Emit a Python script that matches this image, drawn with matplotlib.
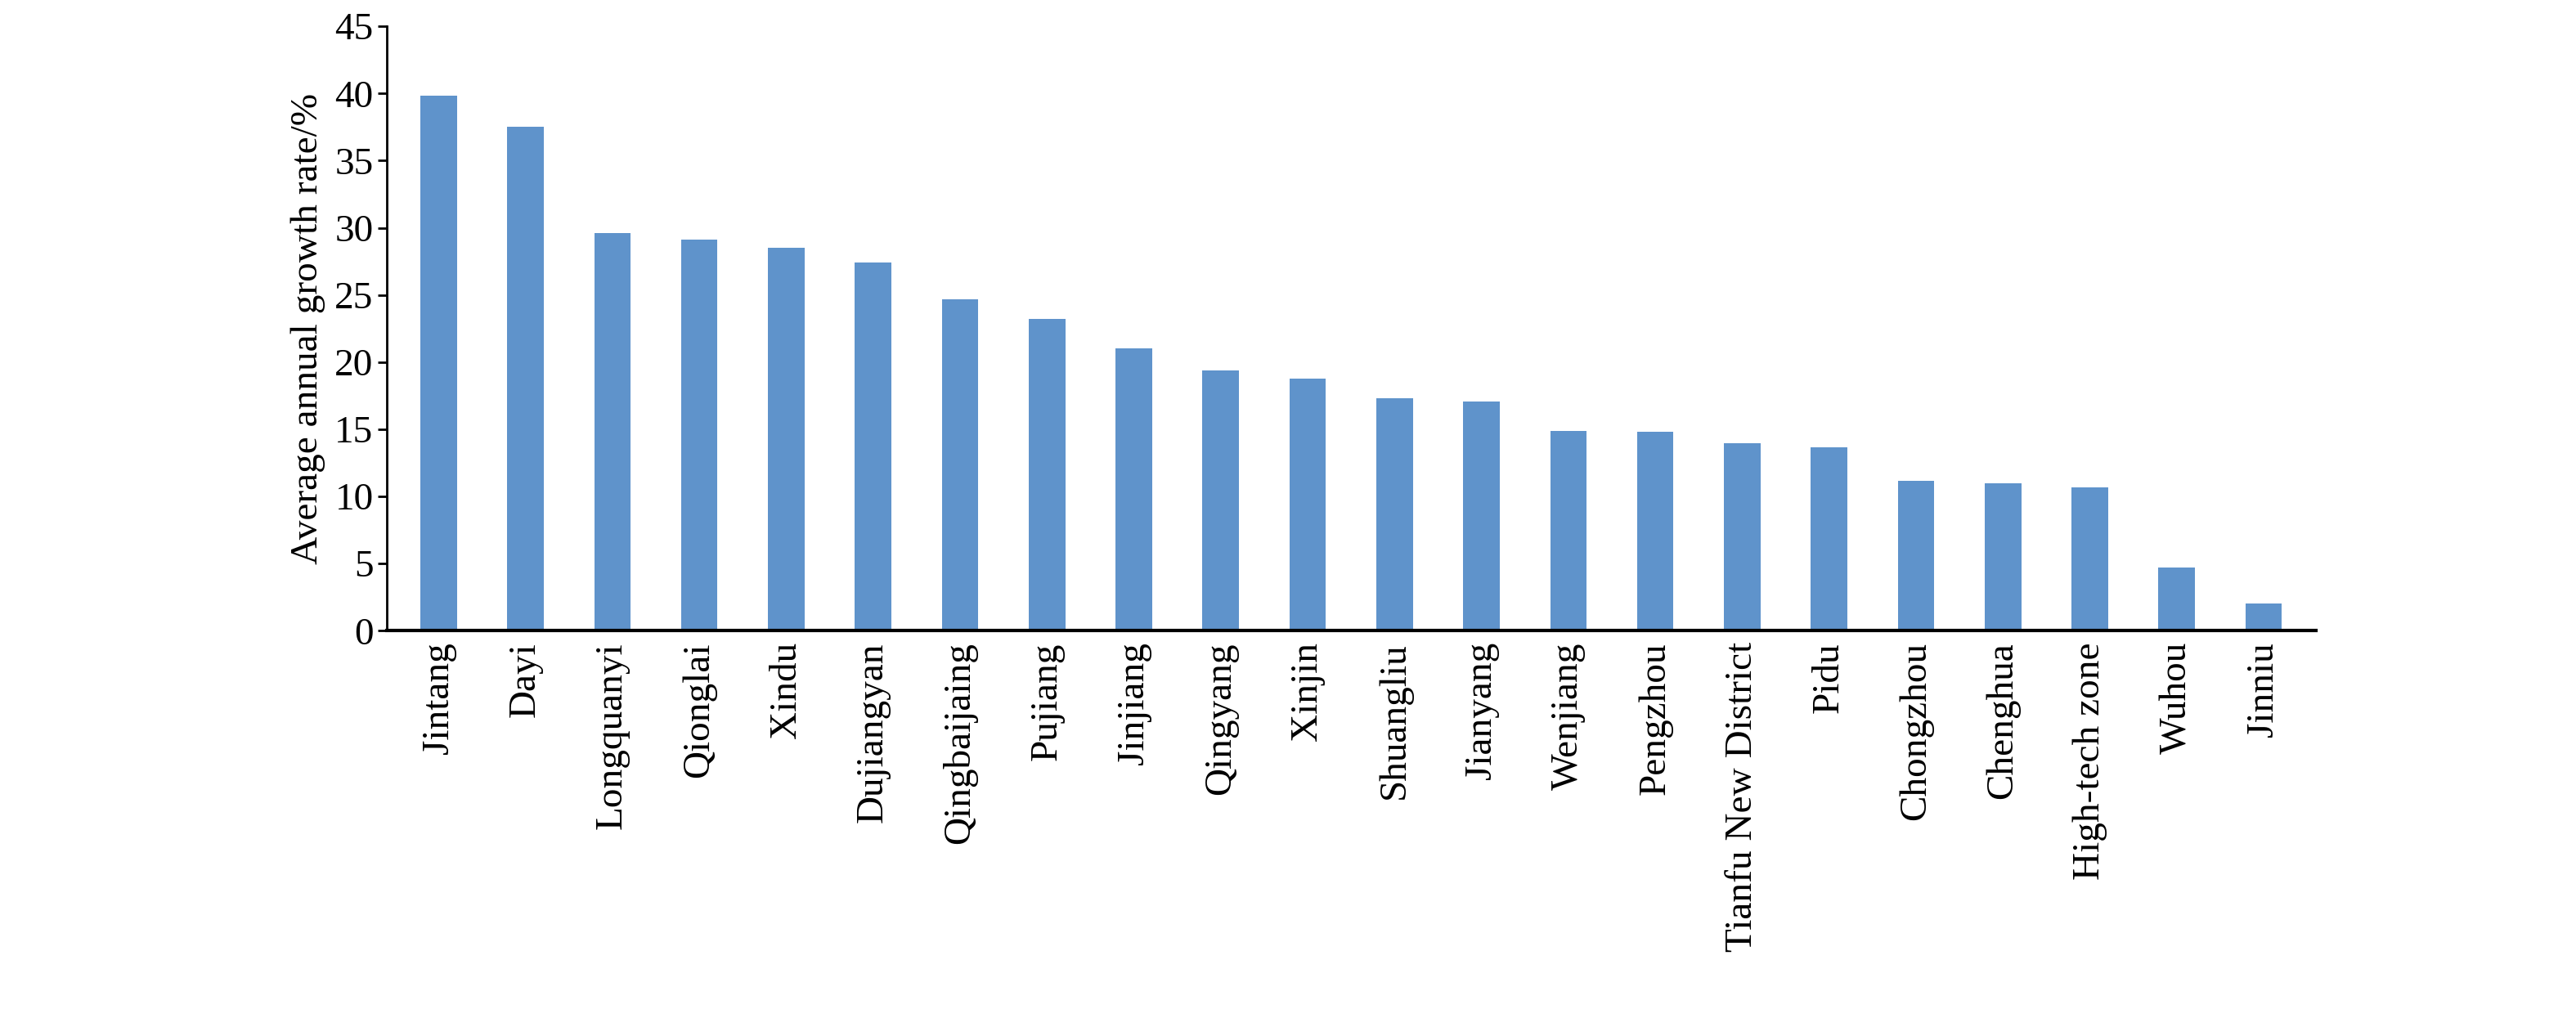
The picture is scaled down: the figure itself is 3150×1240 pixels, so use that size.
import matplotlib
matplotlib.use("Agg")
import matplotlib.pyplot as plt

districts = ["Jintang", "Dayi", "Longquanyi", "Qionglai", "Xindu", "Dujiangyan", "Qingbaijaing",
             "Pujiang", "Jinjiang", "Qingyang", "Xinjin", "Shuangliu", "Jianyang", "Wenjiang",
             "Pengzhou", "Tianfu New District", "Pidu", "Chongzhou", "Chenghua", "High-tech zone",
             "Wuhou", "Jinniu"]
growth = [39.85, 37.5, 29.6, 29.1, 28.5, 27.4, 24.7, 23.2, 21.0, 19.35, 18.76, 17.3, 17.05,
          14.9, 14.8, 13.95, 13.65, 11.13, 10.97, 10.7, 4.7, 2.03]
yticks = [0, 5, 10, 15, 20, 25, 30, 35, 40, 45]

plt.rcParams['font.family'] = ['Liberation Serif', 'DejaVu Serif']
fig = plt.figure(figsize=(31.5, 12.4), dpi=100)
ax = fig.add_axes([0.15, 0.378, 0.749, 0.596])
x = list(range(len(districts)))
ax.bar(x, growth, width=0.42, color="#5F93CB")
ax.set_xlim(-0.6, len(districts) - 0.4)
ax.set_ylim(0, 45)
ax.set_yticks(yticks)
ax.set_xticks(x)
ax.set_xticklabels(districts, rotation=90, fontsize=34)
ax.tick_params(axis='y', labelsize=34, length=8, width=2, direction='out')
ax.tick_params(axis='x', length=0, pad=10)
for s in ["top", "right"]:
    ax.spines[s].set_visible(False)
ax.spines["left"].set_linewidth(2)
ax.spines["bottom"].set_linewidth(3)
ax.set_ylabel("Average annual growth rate/%", fontsize=34, labelpad=8)
fig.savefig("out.png", dpi=100)
